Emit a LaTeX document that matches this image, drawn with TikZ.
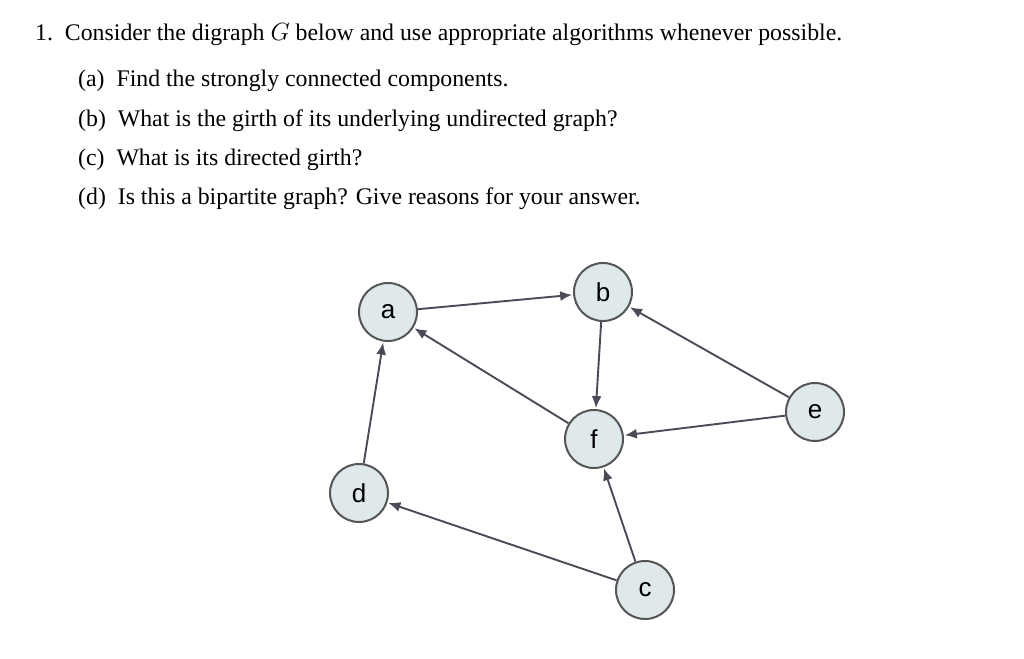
\documentclass[tikz,border=0pt]{standalone}
\usepackage{fontspec}
\setmainfont{Liberation Serif}
\newfontfamily\nodefont{Liberation Sans}
\usetikzlibrary{arrows.meta}
\definecolor{nfill}{HTML}{DFE9EB}
\definecolor{ndraw}{HTML}{555555}
\definecolor{edge}{HTML}{4A4B57}
\begin{document}
\begin{tikzpicture}[x=1pt,y=-1pt,
  vtx/.style={circle,draw=ndraw,line width=2pt,fill=nfill,minimum size=58pt,inner sep=0pt,font=\nodefont\fontsize{26}{26}\selectfont},
  arc/.style={draw=edge,line width=1.9pt,-{Latex[length=12pt,width=10pt]},shorten >=1pt},
  txt/.style={anchor=base west,inner sep=0pt,font=\fontsize{23.8}{26}\selectfont}]
\useasboundingbox (0,0) rectangle (1024,658);
\node[txt] (q) at (35,41) {1.\ \ Consider the digraph $G$ below and use appropriate algorithms whenever possible.};
\node[txt] (qa) at (78,87) {(a)\ \ Find the strongly connected components.};
\node[txt] (qb) at (78,126) {(b)\ \ What is the girth of its underlying undirected graph?};
\node[txt] (qc) at (78,165) {(c)\ \ What is its directed girth?};
\node[txt] (qd) at (78,204) {(d)\ \ Is this a bipartite graph? Give reasons for your answer.};
\node[vtx] (a) at (388,312) {a};
\node[vtx] (b) at (603,292) {b};
\node[vtx] (e) at (815,412) {e};
\node[vtx] (f) at (594,439) {f};
\node[vtx] (d) at (359,493) {d};
\node[vtx] (c) at (645,590) {c};
\draw[arc] (a) -- (b);
\draw[arc] (b) -- (f);
\draw[arc] (e) -- (b);
\draw[arc] (e) -- (f);
\draw[arc] (f) -- (a);
\draw[arc] (d) -- (a);
\draw[arc] (c) -- (d);
\draw[arc] (c) -- (f);
\end{tikzpicture}
\end{document}
